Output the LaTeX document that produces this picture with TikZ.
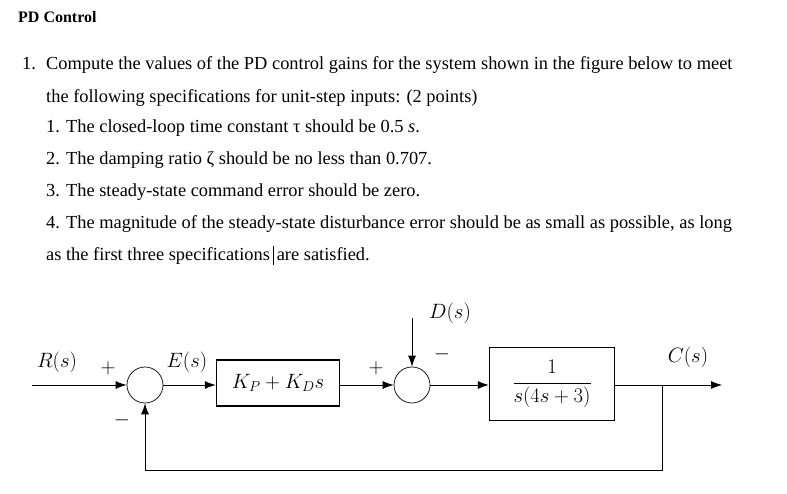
\documentclass[tikz,border=0pt]{standalone}
\usepackage{fontspec}
\setmainfont{Liberation Serif}
\usetikzlibrary{arrows.meta}
\begin{document}
\begin{tikzpicture}[x=1pt,y=-1pt,
  txt/.style={anchor=base west,inner sep=0,font=\fontsize{18.4}{22}\selectfont},
  lbl/.style={inner sep=0,font=\fontsize{22}{26}\selectfont},
  blk/.style={draw,line width=1.4pt,inner sep=0,font=\fontsize{22}{26}\selectfont},
  sumj/.style={draw,circle,minimum size=36pt,inner sep=0,line width=0.7pt},
  arr/.style={-{Latex[length=11pt,width=8pt]},line width=0.8pt},
  ln/.style={line width=0.7pt}]
\useasboundingbox (0,0) rectangle (787,494);
\node[txt,font=\fontsize{16}{18}\selectfont\bfseries] (h) at (18,23) {PD Control};
\node[txt] (n1) at (22,70) {1.};
\node[txt] (l1) at (46,70) {Compute the values of the PD control gains for the system shown in the figure below to meet};
\node[txt] (l2) at (46,103) {the following specifications for unit-step inputs: (2 points)};
\node[txt] (l3) at (46,133) {1. The closed-loop time constant τ should be 0.5 \textit{s}.};
\node[txt] (l4) at (46,165) {2. The damping ratio ζ should be no less than 0.707.};
\node[txt] (l5) at (46,197) {3. The steady-state command error should be zero.};
\node[txt] (l6) at (46,229) {4. The magnitude of the steady-state disturbance error should be as small as possible, as long};
\node[txt] (l7) at (46,261) {as the first three specifications\,\rule[-4pt]{0.7pt}{19pt}\,are satisfied.};

\node[sumj] (s1) at (145,385) {};
\node[sumj] (s2) at (412,385) {};
\node[blk,minimum width=123pt,minimum height=46pt] (b1) at (278,383) {$K_P+K_Ds$};
\node[blk,minimum width=125pt,minimum height=73pt] (b2) at (552,384) {$\displaystyle\frac{1}{s(4s+3)}$};
\coordinate (in) at (32,385);
\coordinate (out) at (722,385);
\coordinate (br) at (662,385);
\coordinate (fb1) at (662,470);
\coordinate (fb2) at (145,470);
\coordinate (dtop) at (412,318);
\draw[arr] (in) -- (s1.west);
\draw[arr] (s1.east) -- (s1.east -| b1.west);
\draw[arr] (s1.east -| b1.east) -- (s2.west);
\draw[arr] (s2.east) -- (s2.east -| b2.west);
\draw[arr] (s2.east -| b2.east) -- (out);
\draw[arr] (br) -- (fb1) -- (fb2) -- (s1.south);
\draw[arr] (dtop) -- (s2.north);
\node[lbl] (R) at (57,362) {$R(s)$};
\node[lbl] (p1) at (108,368) {$+$};
\node[lbl] (E) at (187,362) {$E(s)$};
\node[lbl] (m1) at (122,420) {$-$};
\node[lbl] (p2) at (376,368) {$+$};
\node[lbl] (m2) at (442,354) {$-$};
\node[lbl] (D) at (450,313) {$D(s)$};
\node[lbl] (C) at (688,357) {$C(s)$};
\end{tikzpicture}
\end{document}
